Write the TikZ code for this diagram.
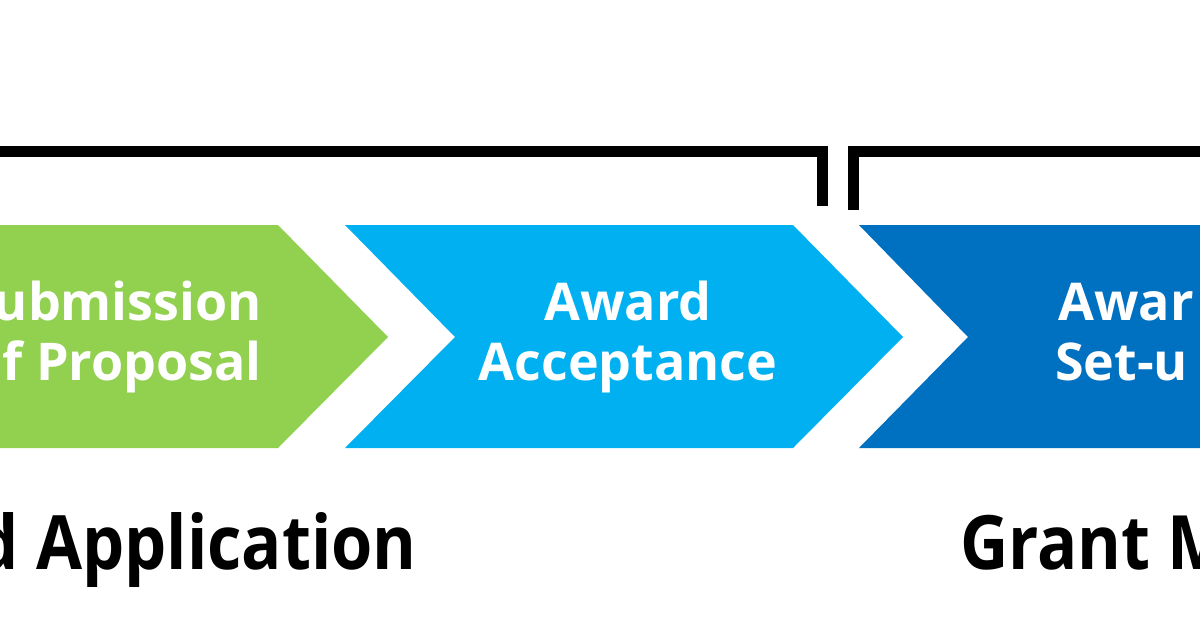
\documentclass[tikz,border=0pt]{standalone}
\usepackage{graphicx}
\usepackage{fontspec}
\setmainfont{Open Sans}
\definecolor{cgreen}{HTML}{92D050}
\definecolor{clight}{HTML}{00B0F0}
\definecolor{cdark}{HTML}{0070C0}
\newcommand{\phasebox}[1]{\scalebox{0.89}[1]{#1}}
\begin{document}
\begin{tikzpicture}[x=1pt,y=-1pt,
  steptext/.style={text=white,font=\fontsize{52}{60}\selectfont\bfseries,inner sep=0pt},
  phasetext/.style={text=black,font=\fontsize{75}{85}\selectfont\bfseries,inner sep=0pt},
  bracket/.style={line width=11pt,line join=miter,line cap=butt}]
\useasboundingbox[fill=white] (0,0) rectangle (1200,630);
% brackets
\coordinate (b1s) at (0,151.5);
\coordinate (b1c) at (822,151.5);
\coordinate (b1e) at (822,206);
\coordinate (b2s) at (853.5,210);
\coordinate (b2c) at (853.5,151.5);
\coordinate (b2e) at (1200,151.5);
\draw[bracket] (b1s) -- (b1c) -- (b1e);
\draw[bracket] (b2s) -- (b2c) -- (b2e);
% chevrons
\fill[cgreen] (0,225) -- (278,225) -- (388,337) -- (278,448) -- (0,448) -- cycle;
\fill[clight] (345,225) -- (793,225) -- (903,337) -- (793,448) -- (345,448) -- (455,337) -- cycle;
\fill[cdark] (859,225) -- (1200,225) -- (1200,448) -- (859,448) -- (968,337) -- cycle;
% step texts
\node[steptext,anchor=base east] (s1a) at (262,320) {ubmission};
\node[steptext,anchor=base east] (s1b) at (262,380) {f Proposal};
\node[steptext,anchor=base] (s2a) at (628,320) {Award};
\node[steptext,anchor=base] (s2b) at (628,380) {Acceptance};
\node[steptext,anchor=base west] (s3a) at (1058,320) {Awar};
\node[steptext,anchor=base west] (s3b) at (1055,380) {Set-u};
% phase texts
\node[phasetext,anchor=base east] (p1) at (417,569) {\phasebox{d Application}};
\node[phasetext,anchor=base west] (p2) at (960,569) {\phasebox{Grant M}};
\end{tikzpicture}
\end{document}
